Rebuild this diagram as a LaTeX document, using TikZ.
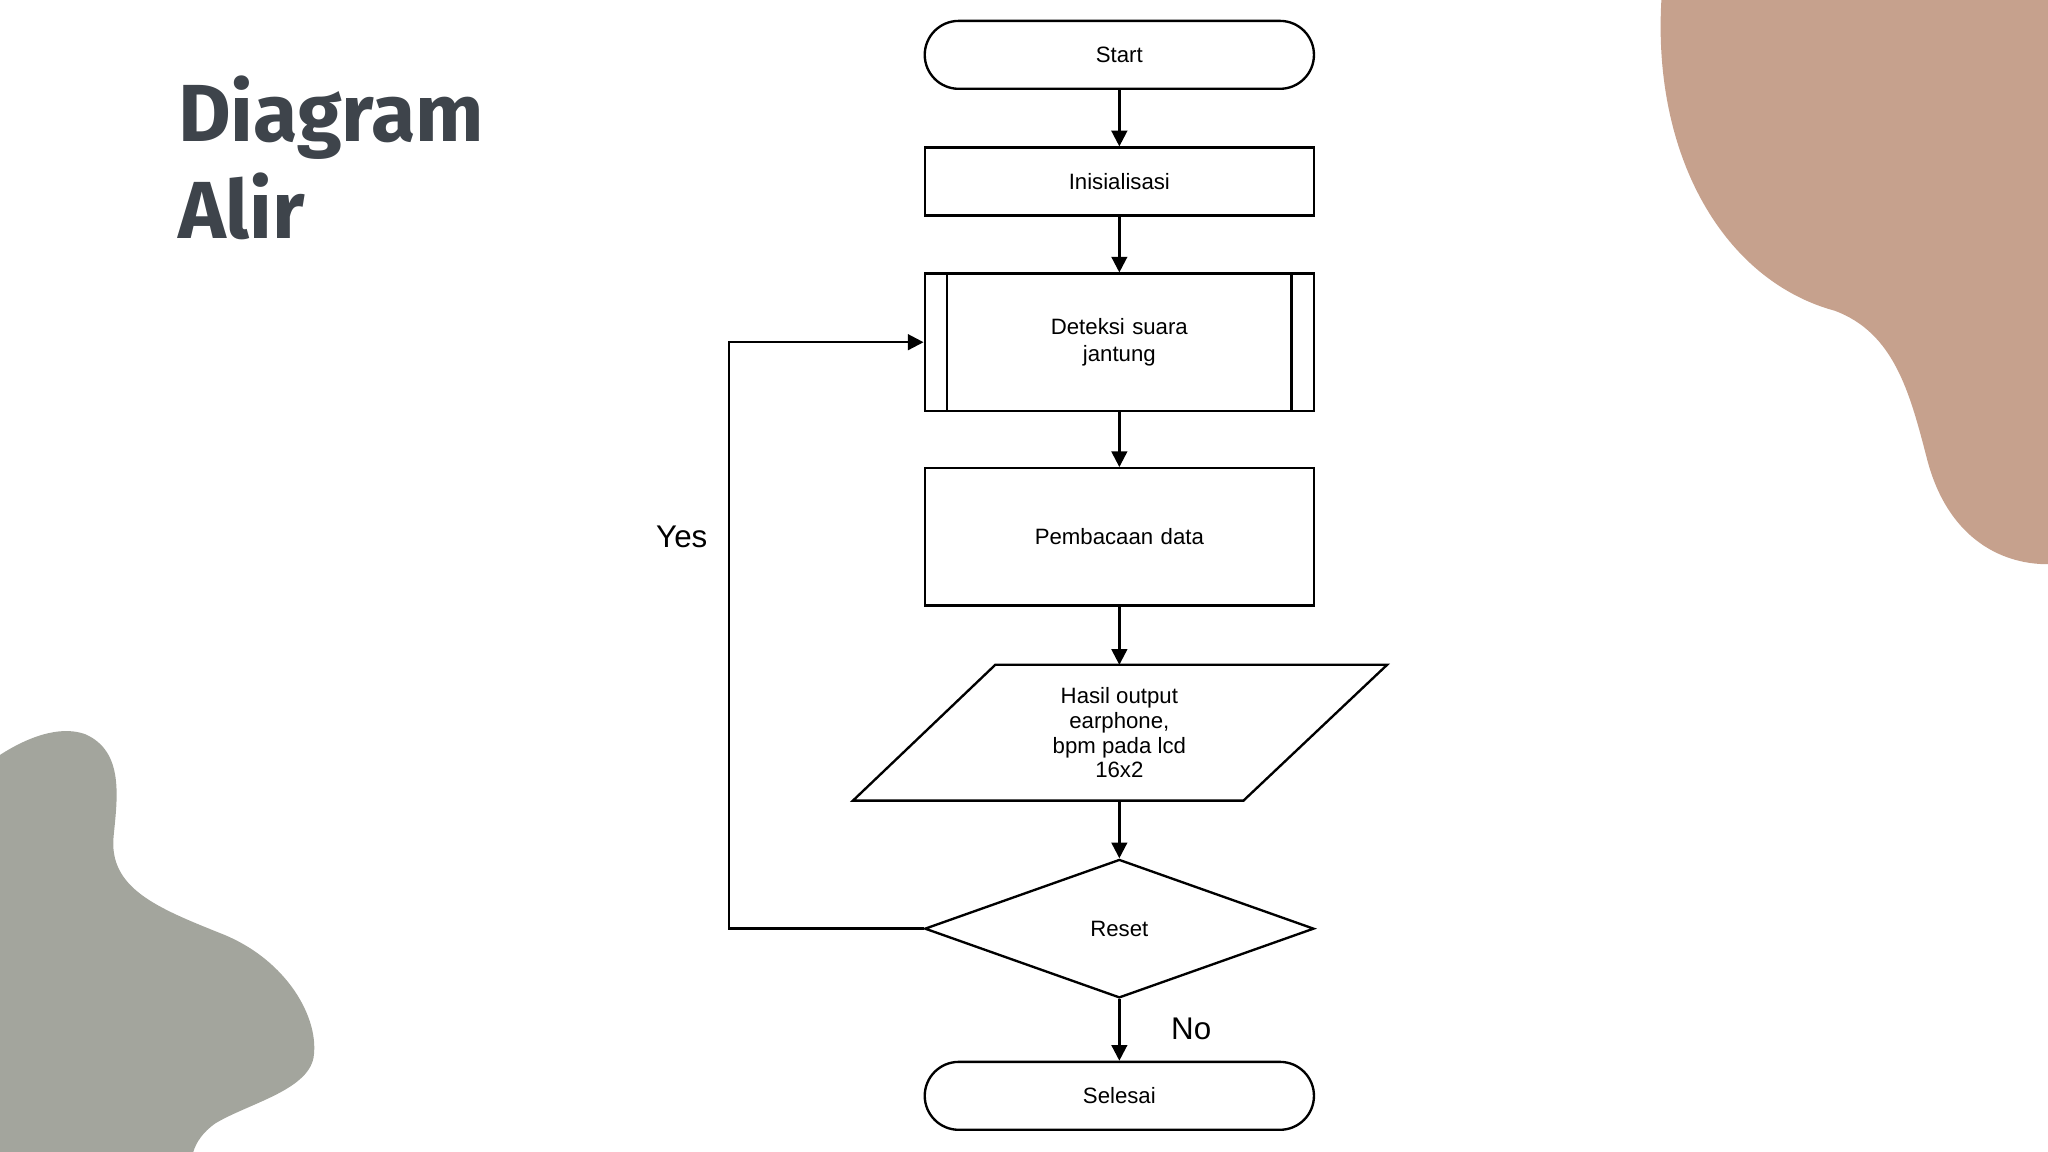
\documentclass[tikz,border=0pt]{standalone}
\usepackage{fontspec}
\setmainfont{Liberation Sans}
\newfontfamily\titlefont{Fira Sans}
\usetikzlibrary{shapes.geometric,arrows.meta}
\definecolor{brownblob}{HTML}{C6A18D}
\definecolor{grayblob}{HTML}{A3A59D}
\definecolor{titlec}{HTML}{3E444B}
\begin{document}
\begin{tikzpicture}[x=0.5pt,y=-0.5pt,
  box/.style={draw,line width=0.9pt,minimum width=149pt,inner sep=2pt,font=\fontsize{8.5}{10}\selectfont,align=center,text width=90pt},
  term/.style={box,rounded corners=13pt,minimum height=26pt},
  arr/.style={line width=0.9pt,-{Triangle[length=6pt,width=6pt]}},
  ln/.style={line width=0.9pt}]
\useasboundingbox (0,0) rectangle (1568,882);
% blobs
\fill[brownblob] (1272,0) .. controls (1265,120) and (1320,215) .. (1405,238)
  .. controls (1450,255) and (1462,300) .. (1475,350)
  .. controls (1490,410) and (1530,432) .. (1568,432) -- (1568,0) -- cycle;
\fill[grayblob] (0,578) .. controls (20,565) and (45,555) .. (65,562)
  .. controls (95,575) and (90,610) .. (87,640)
  .. controls (83,680) and (120,695) .. (170,715)
  .. controls (220,735) and (245,780) .. (240,810)
  .. controls (235,835) and (190,845) .. (165,860)
  .. controls (155,867) and (150,875) .. (148,882) -- (0,882) -- cycle;
% title
\node[anchor=north west,font=\titlefont\bfseries\fontsize{31}{37}\selectfont,text=titlec,align=left,inner sep=0pt] (title) at (136,58) {Diagram\\Alir};
% nodes
\node[term] (start) at (857,42) {Start};
\node[box,minimum height=26pt] (init) at (857,139) {Inisialisasi};
\node[box,minimum height=52.5pt] (det) at (857,262) {Deteksi suara\\jantung};
\draw[ln] ([xshift=9pt]det.north west) -- ([xshift=9pt]det.south west);
\draw[ln] ([xshift=-9pt]det.north east) -- ([xshift=-9pt]det.south east);
\node[box,minimum height=52.5pt] (baca) at (857,411) {Pembacaan data};
\draw[ln] (762,509) -- (1062,509) -- (952,613) -- (653,613) -- cycle;
\node[font=\fontsize{8.5}{9.5}\selectfont,align=center] (hasil) at (857,561) {Hasil output\\earphone,\\bpm pada lcd\\16x2};
\coordinate (htop) at (857,509);
\coordinate (hbot) at (857,613);
\node[draw,diamond,line width=0.9pt,minimum width=149pt,minimum height=53pt,inner sep=0pt,font=\fontsize{8.5}{10}\selectfont] (reset) at (857,711) {Reset};
\node[term] (end) at (857,839) {Selesai};
\coordinate (lb) at (558,711);
\coordinate (lt) at (558,262);
% connectors
\draw[arr] (start) -- (init);
\draw[arr] (init) -- (det);
\draw[arr] (det) -- (baca);
\draw[arr] (baca) -- (htop);
\draw[arr] (hbot) -- (reset);
\draw[arr] (reset) -- (end);
\draw[arr] (reset.west) -- (lb) -- (lt) -- (det.west);
\node[font=\fontsize{12}{14}\selectfont] (yes) at (522,411) {Yes};
\node[font=\fontsize{12}{14}\selectfont] (no) at (912,788) {No};
\end{tikzpicture}
\end{document}
